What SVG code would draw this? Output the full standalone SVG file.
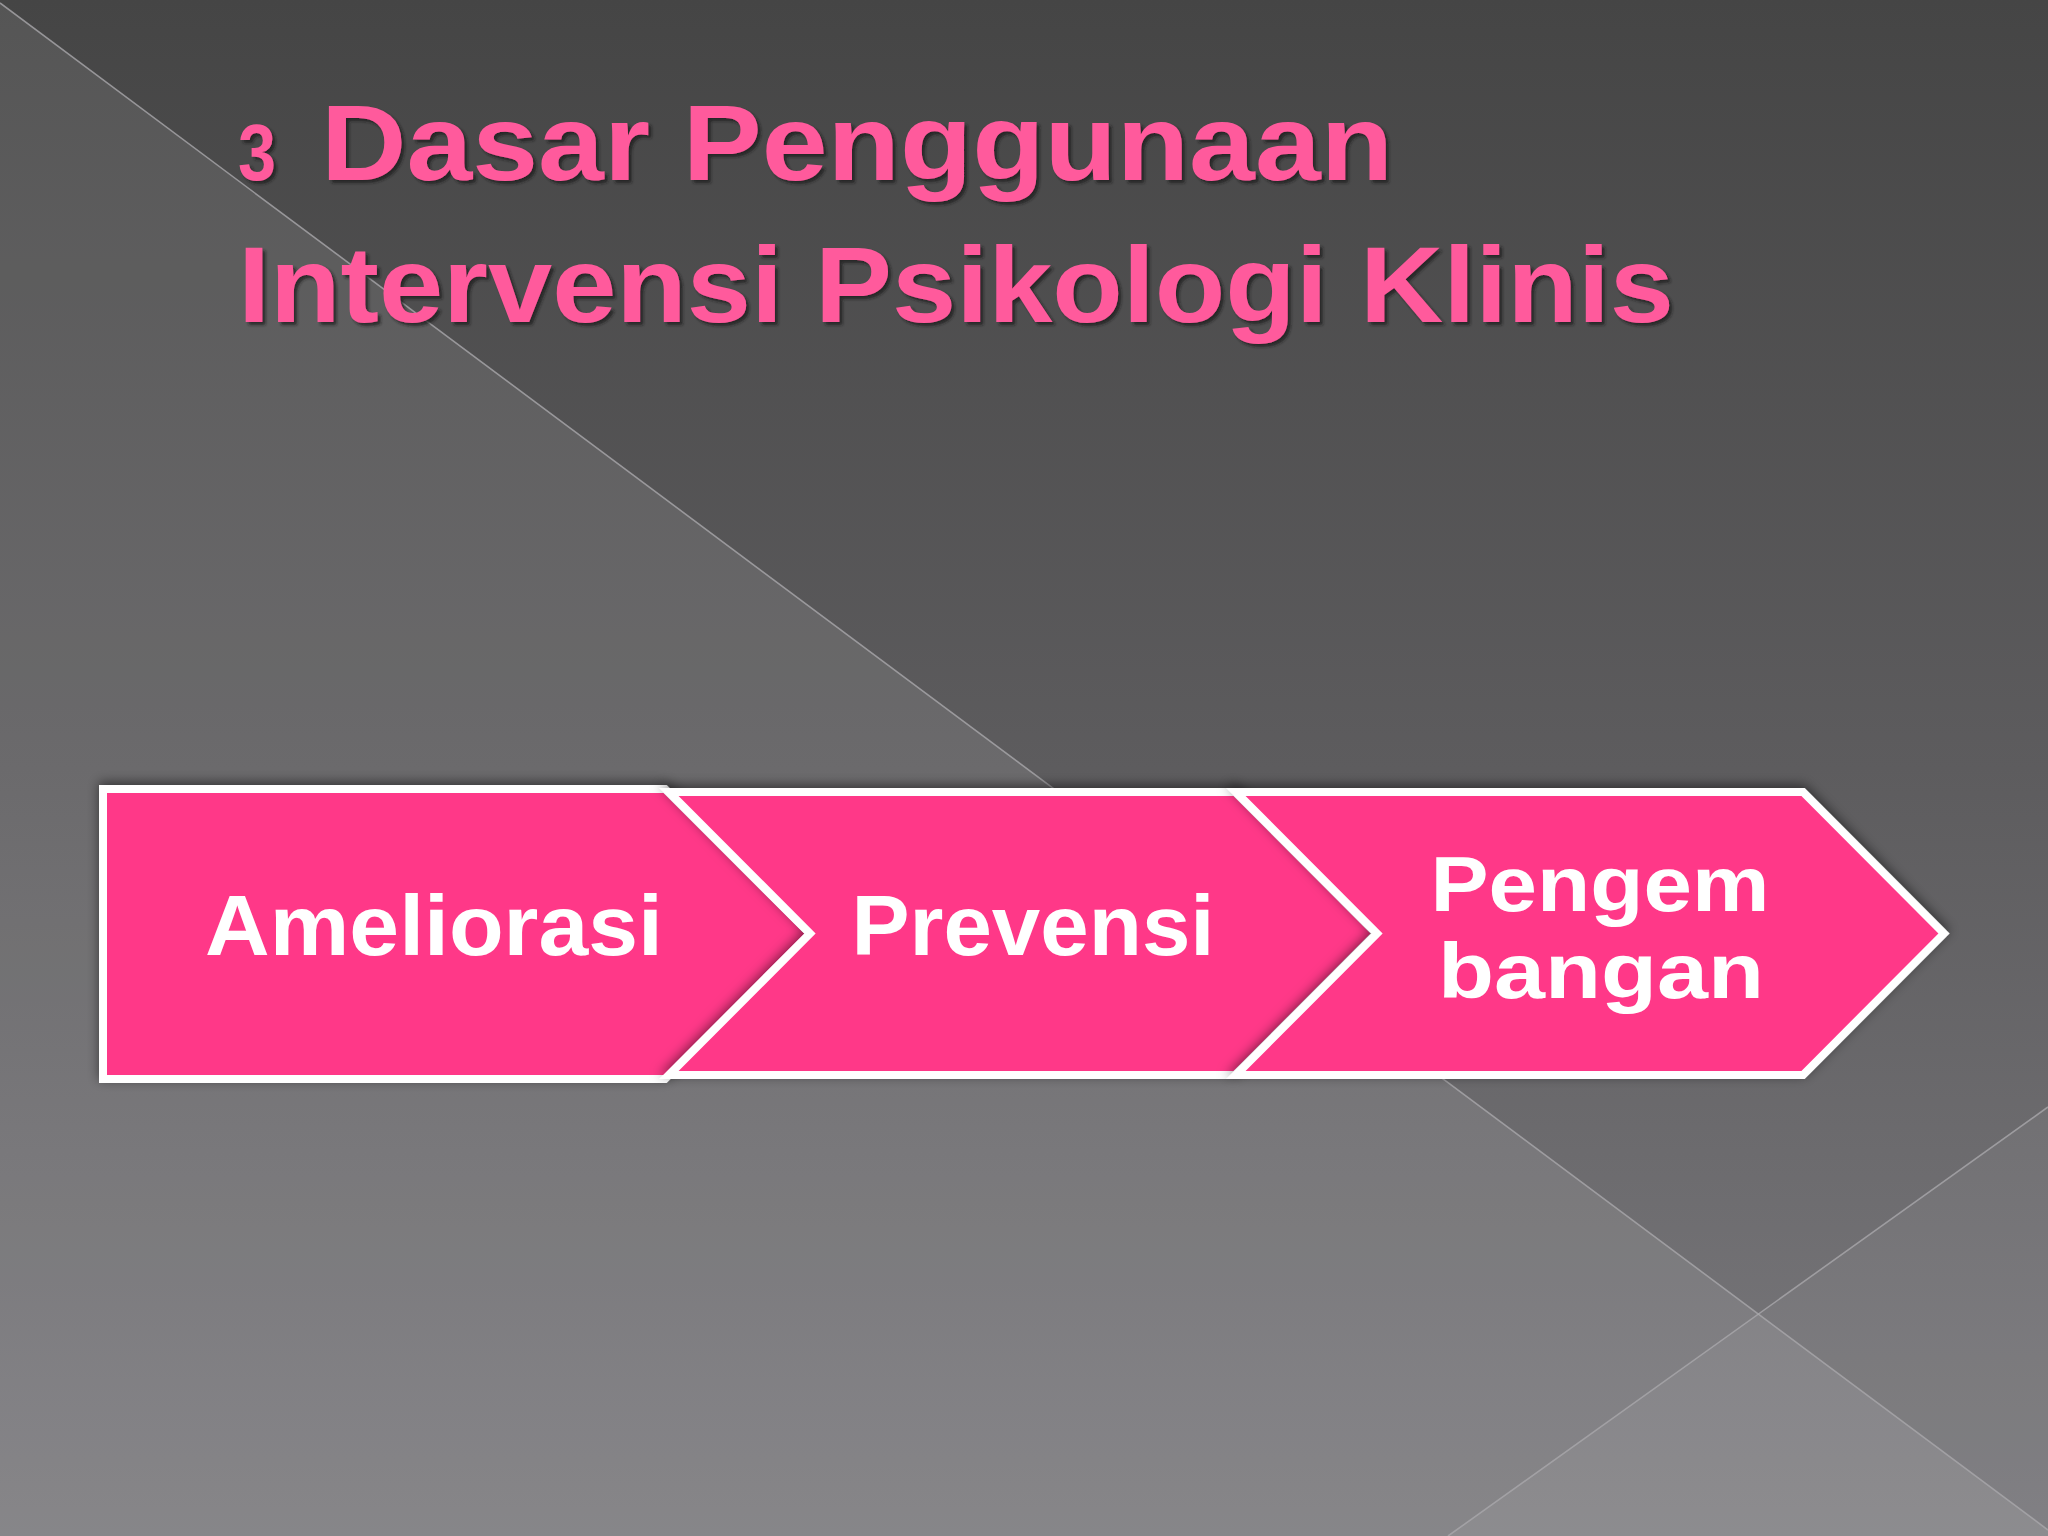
<svg xmlns="http://www.w3.org/2000/svg" width="2048" height="1536" viewBox="0 0 2048 1536">
  <defs>
    <linearGradient id="bg" x1="0" y1="0" x2="0" y2="1">
      <stop offset="0" stop-color="#454545"/>
      <stop offset="0.5" stop-color="#5d5c5e"/>
      <stop offset="1" stop-color="#7b7a7e"/>
    </linearGradient>
    <filter id="tshadow" x="-5%" y="-20%" width="110%" height="140%">
      <feDropShadow dx="3" dy="3" stdDeviation="1.8" flood-color="#1a1a1a" flood-opacity="0.75"/>
    </filter>
    <filter id="sshadow" x="-5%" y="-10%" width="110%" height="120%">
      <feDropShadow dx="0" dy="-3" stdDeviation="6" flood-color="#000" flood-opacity="0.5"/>
    </filter>
    <style>
      .title { font-family: "Liberation Sans", Arial, sans-serif; font-weight: bold; fill: #ff5a9c; }
      .chev { fill: #ff3888; stroke: #ffffff; stroke-width: 8; stroke-linejoin: miter; }
      .lbl { font-family: "Liberation Sans", Arial, sans-serif; font-weight: bold; fill: #ffffff; font-size: 86px; text-anchor: middle; }
      .lbl2 { font-size: 78px; }
      .bgline { stroke: #a9a8ab; stroke-width: 1.6; fill: none; opacity: 0.8; }
    </style>
  </defs>

  <!-- background -->
  <g id="background">
    <rect x="0" y="0" width="2048" height="1536" fill="url(#bg)"/>
    <polygon points="0,3 2048,1530 2048,1536 0,1536" fill="#ffffff" opacity="0.09"/>
    <polygon points="2048,1107 1448,1536 2048,1536" fill="#ffffff" opacity="0.05"/>
    <line class="bgline" x1="0" y1="3" x2="2048" y2="1530"/>
    <line class="bgline" x1="2048" y1="1107" x2="1448" y2="1536"/>
  </g>

  <!-- title -->
  <g id="title" filter="url(#tshadow)">
    <text class="title" x="238" y="180" font-size="80" textLength="38" lengthAdjust="spacingAndGlyphs">3</text>
    <text class="title" x="321" y="180" font-size="108" textLength="1072" lengthAdjust="spacingAndGlyphs">Dasar Penggunaan</text>
    <text class="title" x="238" y="322" font-size="108" textLength="1436" lengthAdjust="spacingAndGlyphs">Intervensi Psikologi Klinis</text>
  </g>

  <!-- connectors (none) -->
  <g id="connectors"></g>

  <!-- chevrons -->
  <g id="node-ameliorasi">
    <path class="chev" filter="url(#sshadow)" d="M103,789 L665,789 L810,934 L665,1079 L103,1079 Z"/>
  </g>
  <g id="node-prevensi">
    <path class="chev" filter="url(#sshadow)" d="M669,792 L1235,792 L1376,933.5 L1235,1075 L669,1075 L810,933.5 Z"/>
  </g>
  <g id="node-pengembangan">
    <path class="chev" filter="url(#sshadow)" d="M1236,792 L1803,792 L1944,933.5 L1803,1075 L1236,1075 L1377,933.5 Z"/>
  </g>
  <g id="labels">
    <text class="lbl" x="434" y="955" textLength="458" lengthAdjust="spacingAndGlyphs">Ameliorasi</text>
    <text class="lbl" x="1033" y="955" textLength="363" lengthAdjust="spacingAndGlyphs">Prevensi</text>
    <text class="lbl lbl2" x="1600" y="911" textLength="339" lengthAdjust="spacingAndGlyphs">Pengem</text>
    <text class="lbl lbl2" x="1601" y="998" textLength="326" lengthAdjust="spacingAndGlyphs">bangan</text>
  </g>
</svg>
